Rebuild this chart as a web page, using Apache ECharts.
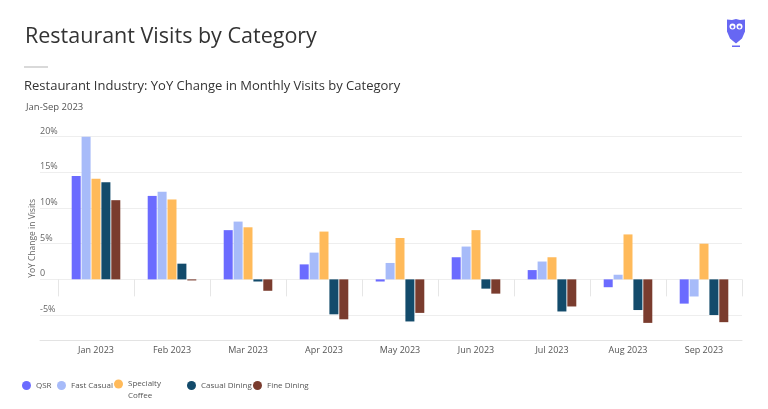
<!DOCTYPE html>
<html>
<head>
<meta charset="utf-8">
<script src="https://cdn.jsdelivr.net/npm/echarts@6/dist/echarts.min.js"></script>
<style>
html,body{margin:0;padding:0;background:#fff;}
#c{width:768px;height:409px;}
</style>
</head>
<body>
<div id="c"></div>
<script>
const categories = ['Jan 2023','Feb 2023','Mar 2023','Apr 2023','May 2023','Jun 2023','Jul 2023','Aug 2023','Sep 2023'];
const qsr = [14.5, 11.7, 6.9, 2.1, -0.3, 3.1, 1.3, -1.1, -3.4];
const fastCasual = [20.1, 12.3, 8.1, 3.75, 2.3, 4.6, 2.5, 0.65, -2.4];
const specialtyCoffee = [14.1, 11.2, 7.3, 6.7, 5.8, 6.9, 3.1, 6.3, 5.0];
const casualDining = [13.6, 2.2, -0.3, -4.9, -5.9, -1.3, -4.5, -4.3, -5.0];
const fineDining = [11.1, -0.15, -1.6, -5.6, -4.7, -2.0, -3.8, -6.1, -6.0];
const seriesNames = ['QSR','Fast Casual','Specialty Coffee','Casual Dining','Fine Dining'];
const seriesData = [qsr, fastCasual, specialtyCoffee, casualDining, fineDining];
const colors = ['#6b6bff','#a7bbf9','#ffba5a','#134b6b','#7a3c2e'];
const yMin = -8.5, yMax = 20;

const FONT = '"Open Sans", "Noto Sans", sans-serif';
const chart = echarts.init(document.getElementById('c'), null, {renderer:'canvas'});

const legendLeft = [22, 57, 114, 187, 253];
const legends = seriesNames.map((n, i) => {
  const multi = n === 'Specialty Coffee';
  return {
    data: [n],
    left: legendLeft[i],
    top: multi ? 366 : 379.5,
    icon: 'circle',
    itemWidth: 9,
    itemHeight: 9,
    itemGap: 4,
    padding: 0,
    selectedMode: false,
    formatter: multi ? ' \nSpecialty\nCoffee' : '{name}',
    textStyle: {color:'#555', fontSize: 8, fontFamily: FONT, lineHeight: 12}
  };
});

const yFmt = v => (Math.abs(v % 5) > 1e-9) ? '' : (v === 0 ? '0' : v + '%');

chart.setOption({
  animation: false,
  color: colors,
  textStyle: {fontFamily: FONT},
  title: [
    {text: 'Restaurant Visits by Category', left: 20, top: 21,
     textStyle: {fontSize: 21.5, fontWeight: 'normal', color: '#333', fontFamily: FONT}},
    {text: 'Restaurant Industry: YoY Change in Monthly Visits by Category', left: 19, top: 75,
     textStyle: {fontSize: 13, fontWeight: 'normal', color: '#333', fontFamily: FONT}},
    {text: 'Jan-Sep 2023', left: 21, top: 97,
     textStyle: {fontSize: 9.5, fontWeight: 'normal', color: '#555', fontFamily: FONT}}
  ],
  legend: legends,
  grid: [
    {left: 58, right: 26, top: 136.7, bottom: 69},
    {left: 40, right: 26, top: 136.7, bottom: 69}
  ],
  xAxis: [
    {type: 'category', data: categories, gridIndex: 0,
     axisLine: {show: false},
     axisTick: {show: true, length: 17, lineStyle: {color: '#e6e6e6'}},
     axisLabel: {color: '#555', fontSize: 9, margin: 6, fontFamily: FONT}},
    {type: 'value', gridIndex: 1, min: 0, max: 1, show: true, position: 'bottom',
     axisLine: {show: true, onZero: false, lineStyle: {color: '#e3e3e3'}},
     axisTick: {show: false}, axisLabel: {show: false}, splitLine: {show: false}}
  ],
  yAxis: [
    {type: 'value', gridIndex: 0, min: yMin, max: yMax,
     axisLine: {show: false}, axisTick: {show: false},
     axisLabel: {show: false}, splitLine: {show: false}},
    {type: 'value', gridIndex: 1, min: yMin, max: yMax,
     name: 'YoY Change in Visits', nameLocation: 'middle', nameGap: 3, nameMoveOverlap: false,
     nameTextStyle: {color: '#666', fontSize: 8.5, fontFamily: FONT},
     axisLine: {show: false}, axisTick: {show: false},
     axisLabel: {formatter: yFmt, color: '#666', fontSize: 9, align: 'left', verticalAlign: 'bottom',
                 inside: true, margin: 0, padding: [0,0,1,0], showMinLabel: false, fontFamily: FONT},
     splitLine: {show: true, lineStyle: {color: '#eeeeee'}}}
  ],
  graphic: [
    {type: 'rect', left: 24, top: 66, shape: {width: 24, height: 2}, style: {fill: '#d9d9d9'}},
    {type: 'group', left: 727, top: 19, children: [
      {type: 'polygon', shape: {points: [[1,3],[6,3.5],[10,2.5],[14,3.5],[19,3],[19,15],[16,22],[10,27],[4,22],[1,15]]},
       style: {fill: '#6767f3'}},
      {type: 'circle', shape: {cx: 6.5, cy: 10, r: 3}, style: {fill: '#fff'}},
      {type: 'circle', shape: {cx: 13.5, cy: 10, r: 3}, style: {fill: '#fff'}},
      {type: 'circle', shape: {cx: 6.5, cy: 10.5, r: 1.4}, style: {fill: '#6767f3'}},
      {type: 'circle', shape: {cx: 13.5, cy: 10.5, r: 1.4}, style: {fill: '#6767f3'}},
      {type: 'rect', shape: {x: 6, y: 29, width: 8, height: 1.5}, style: {fill: '#6767f3'}}
    ]}
  ],
  series: seriesNames.map((n, i) => ({
    name: n, type: 'bar', xAxisIndex: 0, yAxisIndex: 0,
    data: seriesData[i],
    barWidth: 9, barGap: '10%',
    itemStyle: {color: colors[i]}
  }))
});
</script>
</body>
</html>
